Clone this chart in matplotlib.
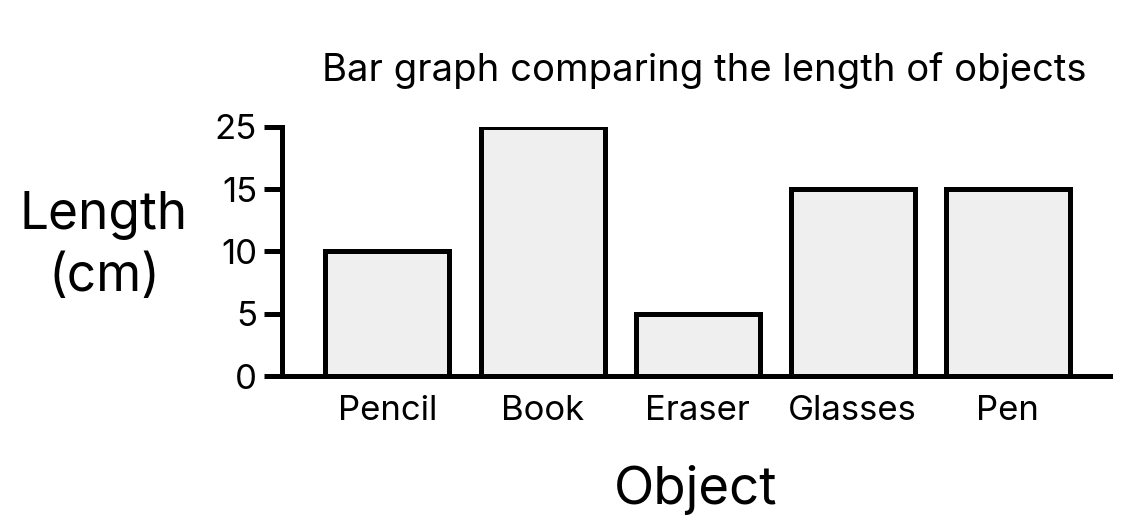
import numpy as np
import matplotlib.pyplot as plt

objects = ['Pencil', 'Book', 'Eraser', 'Glasses', 'Pen']
lengths = [10, 25, 5, 15, 15]
y_ticks = [0, 5, 10, 15, 25]

# the axis in the original is unevenly spaced: each tick gets the same gap
tick_pos = np.arange(len(y_ticks))
def fwd(v):
    return np.interp(v, y_ticks, tick_pos)
def inv(p):
    return np.interp(p, tick_pos, y_ticks)

plt.rcParams['font.family'] = ['Inter', 'DejaVu Sans']

fig = plt.figure(figsize=(11.30, 5.16), dpi=100)
ax = fig.add_axes([0.2496, 0.2713, 0.9823 - 0.2496, 0.7539 - 0.2713])
ax.set_yscale('function', functions=(fwd, inv))

x = np.arange(len(objects))
ax.bar(x, lengths, width=0.8, color='#efefef', edgecolor='black', linewidth=3.6)

ax.set_xlim(-0.68, 4.66)
ax.set_ylim(0, 25)
ax.set_yticks(y_ticks)
ax.set_yticklabels([str(t) for t in y_ticks])
ax.set_xticks(x)
ax.set_xticklabels(objects)

for s in ['top', 'right']:
    ax.spines[s].set_visible(False)
for s in ['left', 'bottom']:
    ax.spines[s].set_linewidth(3.6)
    ax.spines[s].set_capstyle('projecting')

ax.tick_params(axis='y', length=13, width=3.6, labelsize=25, pad=5)
ax.tick_params(axis='x', length=0, labelsize=25, pad=14)

ax.set_title('Bar graph comparing the length of objects', fontsize=27.5, pad=33, x=0.51)
ax.set_xlabel('Object', fontsize=38, labelpad=27)
ax.set_ylabel('Length\n(cm)', fontsize=37, rotation=0, ha='center', va='center', linespacing=1.35)
ax.yaxis.set_label_coords(-0.215, 0.52)

fig.savefig('out.png', dpi=100)
